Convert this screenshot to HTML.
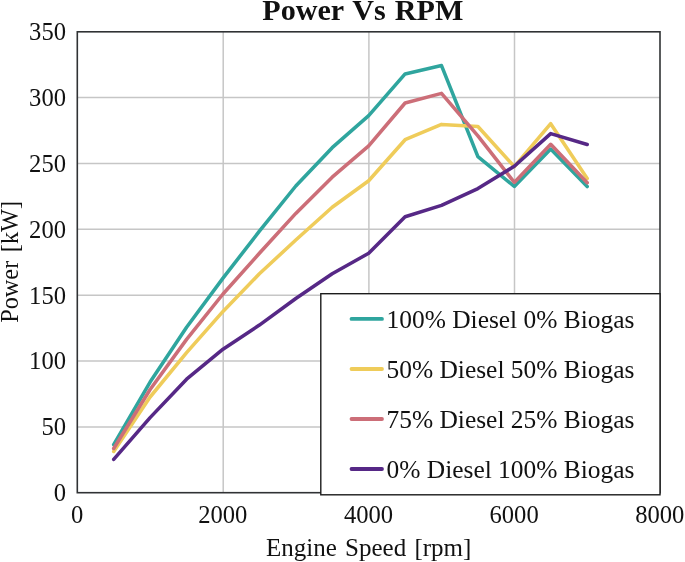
<!DOCTYPE html>
<html><head><meta charset="utf-8"><title>Power Vs RPM</title>
<style>html,body{margin:0;padding:0;background:#fff;overflow:hidden}svg{display:block}text{font-family:"Liberation Serif",serif;fill:#111}</style></head><body>
<svg width="685" height="562" viewBox="0 0 685 562">
<rect width="685" height="562" fill="#fff"/>
<g stroke="#c6c6c6" stroke-width="1.5"><line x1="77.3" x2="660.0" y1="426.9" y2="426.9"/><line x1="77.3" x2="660.0" y1="361.0" y2="361.0"/><line x1="77.3" x2="660.0" y1="295.2" y2="295.2"/><line x1="77.3" x2="660.0" y1="229.3" y2="229.3"/><line x1="77.3" x2="660.0" y1="163.5" y2="163.5"/><line x1="77.3" x2="660.0" y1="97.6" y2="97.6"/><line y1="31.8" y2="492.7" x1="223.2" x2="223.2"/><line y1="31.8" y2="492.7" x1="368.9" x2="368.9"/><line y1="31.8" y2="492.7" x1="514.5" x2="514.5"/></g>
<polyline points="113.7,444.6 150.1,382.1 186.6,327.3 223.0,278.1 259.4,231.2 295.8,186.0 332.2,147.7 368.7,115.7 405.1,73.9 441.5,65.6 477.9,156.6 514.3,186.5 550.7,149.1 587.2,186.5" fill="none" stroke="#2fa59e" stroke-width="3.55" stroke-linejoin="round" stroke-linecap="round"/>
<polyline points="113.7,451.5 150.1,397.0 186.6,352.7 223.0,311.4 259.4,273.8 295.8,240.0 332.2,207.3 368.7,180.7 405.1,139.7 441.5,124.4 477.9,126.5 514.3,166.6 550.7,123.7 587.2,178.4" fill="none" stroke="#efcc5a" stroke-width="3.55" stroke-linejoin="round" stroke-linecap="round"/>
<polyline points="113.7,448.5 150.1,389.5 186.6,339.4 223.0,294.0 259.4,253.3 295.8,213.4 332.2,177.2 368.7,145.8 405.1,103.0 441.5,93.4 477.9,135.8 514.3,182.4 550.7,144.3 587.2,182.7" fill="none" stroke="#cc6e78" stroke-width="3.55" stroke-linejoin="round" stroke-linecap="round"/>
<polyline points="113.7,459.3 150.1,417.6 186.6,379.2 223.0,349.2 259.4,325.1 295.8,298.5 332.2,273.8 368.7,253.3 405.1,216.8 441.5,205.4 477.9,188.6 514.3,166.3 550.7,133.6 587.2,144.5" fill="none" stroke="#562886" stroke-width="3.55" stroke-linejoin="round" stroke-linecap="round"/>
<rect x="77.3" y="31.8" width="582.7" height="460.9" fill="none" stroke="#303234" stroke-width="1.6"/>
<rect x="320.8" y="293.7" width="339.2" height="201.1" fill="#fff" stroke="#1c1c1c" stroke-width="1.4"/>
<line x1="351.5" x2="382" y1="318.9" y2="318.9" stroke="#2fa59e" stroke-width="3.8" stroke-linecap="round"/>
<text x="386.5" y="327.6" font-size="25.45">100% Diesel 0% Biogas</text>
<line x1="351.5" x2="382" y1="369.0" y2="369.0" stroke="#efcc5a" stroke-width="3.8" stroke-linecap="round"/>
<text x="386.5" y="377.7" font-size="25.45">50% Diesel 50% Biogas</text>
<line x1="351.5" x2="382" y1="419.0" y2="419.0" stroke="#cc6e78" stroke-width="3.8" stroke-linecap="round"/>
<text x="386.5" y="427.7" font-size="25.45">75% Diesel 25% Biogas</text>
<line x1="351.5" x2="382" y1="469" y2="469" stroke="#562886" stroke-width="3.8" stroke-linecap="round"/>
<text x="386.5" y="477.7" font-size="25.45">0% Diesel 100% Biogas</text>
<text x="66" y="501.1" font-size="24.6" text-anchor="end">0</text>
<text x="66" y="435.3" font-size="24.6" text-anchor="end">50</text>
<text x="66" y="369.4" font-size="24.6" text-anchor="end">100</text>
<text x="66" y="303.6" font-size="24.6" text-anchor="end">150</text>
<text x="66" y="237.7" font-size="24.6" text-anchor="end">200</text>
<text x="66" y="171.9" font-size="24.6" text-anchor="end">250</text>
<text x="66" y="106.0" font-size="24.6" text-anchor="end">300</text>
<text x="66" y="40.2" font-size="24.6" text-anchor="end">350</text>
<text x="77.1" y="522.5" font-size="24.6" text-anchor="middle">0</text>
<text x="222.8" y="522.5" font-size="24.6" text-anchor="middle">2000</text>
<text x="368.5" y="522.5" font-size="24.6" text-anchor="middle">4000</text>
<text x="514.1" y="522.5" font-size="24.6" text-anchor="middle">6000</text>
<text x="659.8" y="522.5" font-size="24.6" text-anchor="middle">8000</text>
<text x="368.65" y="556" font-size="25" word-spacing="2" text-anchor="middle">Engine Speed [rpm]</text>
<text transform="translate(17.5,261.9) rotate(-90)" font-size="24.3" word-spacing="2.5" text-anchor="middle">Power [kW]</text>
<text x="362.8" y="19.9" font-size="30.1" word-spacing="1.6" font-weight="bold" text-anchor="middle">Power Vs RPM</text>
</svg></body></html>
